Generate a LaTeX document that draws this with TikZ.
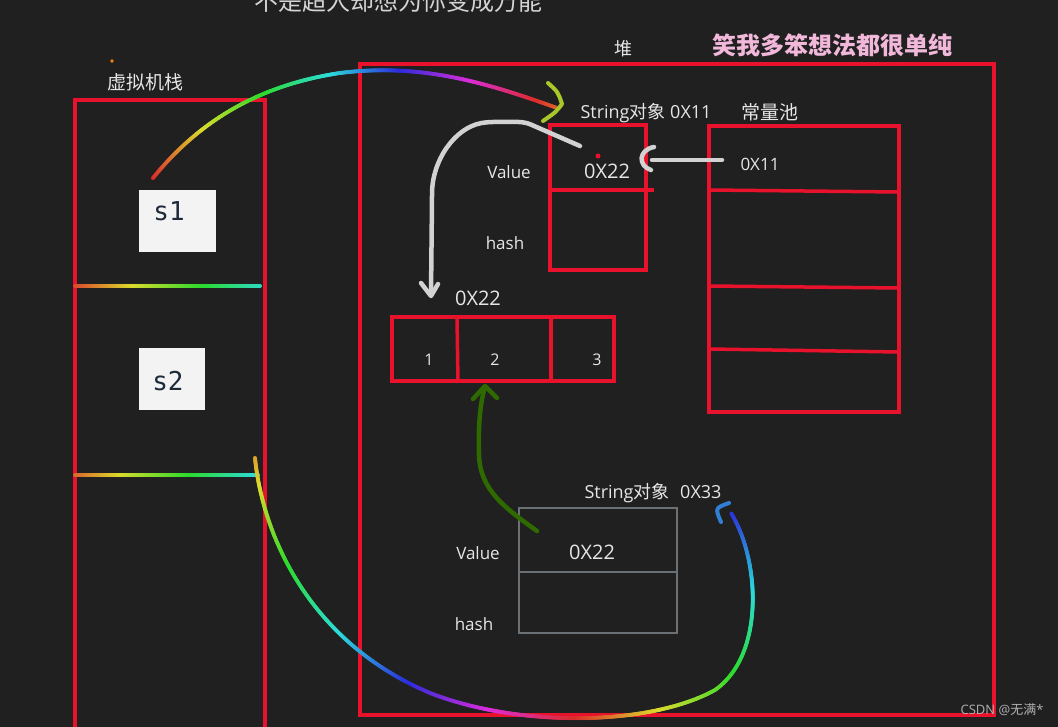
\documentclass[tikz,border=0pt]{standalone}
\usepackage{fontspec}
\setmainfont{Open Sans}
\newfontfamily\zh{Noto Sans CJK SC}
\newfontfamily\monofnt{DejaVu Sans Mono}
\usetikzlibrary{decorations.markings,arrows.meta}
\definecolor{bg}{HTML}{202020}
\definecolor{hred}{HTML}{E8122C}
\definecolor{txt}{HTML}{E6E6E6}
\definecolor{pinktxt}{HTML}{F2B8DA}
\definecolor{gbox}{HTML}{6A7074}
\definecolor{lgray}{HTML}{D2D2D2}
\definecolor{dgreen}{HTML}{2E6A00}
\definecolor{sfill}{HTML}{F3F3F3}
\definecolor{stxt}{HTML}{1E2A3A}
\definecolor{wm}{HTML}{B0B0B0}
\definecolor{headyg}{HTML}{A8C82A}
\definecolor{headbl}{HTML}{2F80D2}
\tikzset{
  every node/.style={inner sep=0pt, outer sep=0pt},
  redbox/.style={draw=hred, line width=3.5pt},
  redline/.style={draw=hred, line width=3.5pt},
  graybox/.style={draw=gbox, line width=2.8pt},
  grayline/.style={draw=gbox, line width=2.8pt},
  lbl/.style={text=txt, font=\fontsize{17}{20}\selectfont},
  bigl/.style={text=txt, font=\fontsize{20}{24}\selectfont},
  zhlbl/.style={text=txt, font=\zh\fontsize{19}{22}\selectfont},
  slbl/.style={text=stxt, font=\monofnt\fontsize{26}{28}\selectfont},
  pen/.style={line width=4.5pt, line cap=round, line join=round},
  rainbow/.style 2 args={decoration={markings, mark=between positions 0 and 1 step 1pt with {%
      \pgfmathsetmacro\rbfrac{(\pgfkeysvalueof{/pgf/decoration/mark info/distance from start})/(\pgfdecoratedpathlength)}%
      \pgfmathsetmacro\rbh{mod(#1+(#2-#1)*\rbfrac,360)}%
      \definecolor{rbc}{Hsb}{\rbh,0.8,0.86}%
      \fill[rbc] (0,0) circle (2pt);}}, decorate}
}
\begin{document}
\begin{tikzpicture}[x=1pt,y=-1pt]
\fill[bg] (0,0) rectangle (1058,727);
\useasboundingbox (0,0) rectangle (1058,727);
\clip (0,0) rectangle (1058,727);

% title (cut off at top, as in the reference)
\node[anchor=base, text=txt!92!black, font=\zh\fontsize{24}{26}\selectfont] (title) at (398,11) {不是超人却想为你变成万能};

% stack
\node[zhlbl] (stacklbl) at (145,82) {虚拟机栈};
\fill[orange] (112,61) circle (1.8pt);
\node[redbox, minimum width=190pt, minimum height=660pt, anchor=north west] (stack) at (75,100) {};
\path[rainbow={10}{170}] (75,286) -- (260,286);
\path[rainbow={20}{180}] (75,475) -- (258,475);
\node[fill=sfill, minimum width=77pt, minimum height=62pt, anchor=north west] (s1) at (139,190) {};
\node[slbl] (s1txt) at (169,211) {s1};
\node[fill=sfill, minimum width=66pt, minimum height=62pt, anchor=north west] (s2) at (139,348) {};
\node[slbl] (s2txt) at (168,381) {s2};

% heap
\node[text=txt, font=\zh\fontsize{18}{20}\selectfont] (heaplbl) at (623,49) {堆};
\node[text=pinktxt, font=\zh\bfseries\fontsize{24}{26}\selectfont] (motto) at (832,45) {笑我多笨想法都很单纯};
\node[redbox, minimum width=634pt, minimum height=651pt, anchor=north west] (heap) at (360,64) {};

% String object 0X11
\node[lbl, font=\fontsize{18}{20}\selectfont] (obj1lbl) at (646,113) {String{\zh 对象} 0X11};
\node[redbox, minimum width=96pt, minimum height=145pt, anchor=north west] (obj1) at (550,125) {};
\draw[redline] (550,190) -- (654,190);
\node[lbl] (v1) at (509,172) {Value};
\node[lbl] (h1) at (505,243) {hash};
\node[bigl] (obj1val) at (607,171) {0X22};
\fill[hred] (598,156) circle (2.5pt);

% constant pool
\node[zhlbl] (poollbl) at (770,112) {常量池};
\node[redbox, minimum width=190pt, minimum height=286pt, anchor=north west] (pool) at (709,126) {};
\draw[redline] (709,190) -- (899,192);
\draw[redline] (709,286) -- (899,288);
\draw[redline] (709,349) -- (899,352);
\node[lbl] (poolval) at (760,164) {0X11};

% char array
\node[bigl] (arrlbl) at (478,298) {0X22};
\node[redbox, minimum width=222pt, minimum height=64pt, anchor=north west] (arr) at (392,317) {};
\draw[redline] (457,317) -- (458,383);
\draw[redline] (551,317) -- (551,383);
\node[lbl, font=\fontsize{16}{18}\selectfont] (c1) at (429,360) {1};
\node[lbl, font=\fontsize{16}{18}\selectfont] (c2) at (495,360) {2};
\node[lbl, font=\fontsize{16}{18}\selectfont] (c3) at (597,360) {3};

% String object 0X33
\node[lbl, font=\fontsize{18}{20}\selectfont] (obj2lbl) at (653,493) {String{\zh 对象}\hspace{6pt} 0X33};
\node[graybox, minimum width=158pt, minimum height=125pt, anchor=north west] (obj2) at (519,508) {};
\draw[grayline] (519,572) -- (677,572);
\node[lbl] (v2) at (478,553) {Value};
\node[lbl] (h2) at (474,624) {hash};
\node[bigl] (obj2val) at (592,552) {0X22};

% pointer: pool -> obj1
\coordinate (p1) at (722,160);
\coordinate (p2) at (652,160);
\draw[lgray, pen] (p1) -- (p2);
\draw[lgray, pen] (654,147) .. controls (638,150) and (638,166) .. (651,170);

% pointer: obj1 value -> array
\coordinate (g1s) at (580,146);
\coordinate (g1e) at (431,294);
\draw[lgray, pen, rounded corners=6pt] (g1s) -- (525,122) -- (487,122) .. controls (455,128) and (432,160) .. (432,200) -- (g1e);
\draw[lgray, pen] (421,283) -- (431,296) -- (438,284);

% pointer: obj2 value -> array
\coordinate (gr1) at (537,531);
\coordinate (gr2) at (485,387);
\draw[dgreen, pen] (gr1) .. controls (505,508) and (480,490) .. (479,455) .. controls (478,420) and (481,400) .. (gr2);
\draw[dgreen, pen] (473,399) -- (485,386) -- (497,398);

% rainbow: s1 -> obj1
\coordinate (a1s) at (153,178);
\coordinate (a1e) at (557,108);
\path[rainbow={0}{380}] (a1s) .. controls (200,120) and (260,85) .. (340,73) .. controls (420,63) and (485,82) .. (a1e);
\draw[headyg, pen, line width=4pt] (548,83) .. controls (558,92) .. (562,104) .. controls (556,112) .. (543,121);

% rainbow: s2 -> obj2
\coordinate (a2s) at (255,458);
\coordinate (a2e) at (731,513);
\path[rainbow={40}{600}] (a2s) .. controls (262,530) and (305,640) .. (430,693) .. controls (520,728) and (650,726) .. (715,690) .. controls (765,655) and (760,560) .. (a2e);
\draw[headbl, pen, line width=4pt] (721,522) .. controls (715,508) .. (729,503);

% watermark
\node[text=wm, font=\fontsize{13}{15}\selectfont] (wmk) at (1002,710) {CSDN @{\zh 无满}*};
\end{tikzpicture}
\end{document}
